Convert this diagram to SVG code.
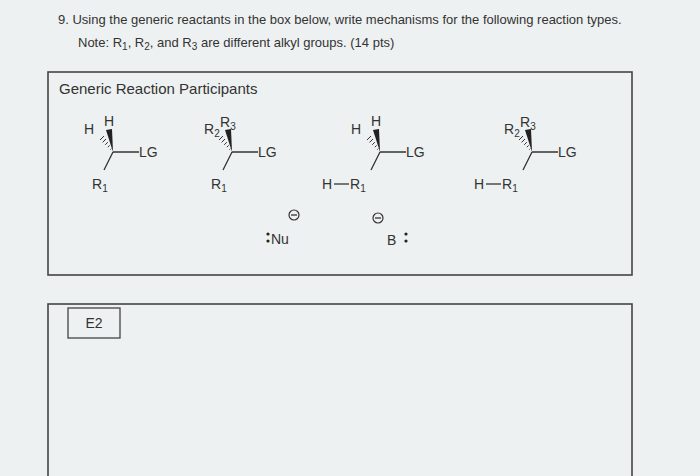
<svg xmlns="http://www.w3.org/2000/svg" width="700" height="476" viewBox="0 0 700 476">
<defs>
<style>
text{font-family:"Liberation Sans",Arial,sans-serif;fill:#333}
.t{font-size:13px}
.c{font-size:14px}
.s{font-size:10px}
.b{stroke:#333;stroke-width:1.3;fill:none}
.box{fill:none;stroke:#444;stroke-width:1.6}
</style>
<g id="mol">
<path class="b" d="M0,0 H26 M0,0 L-9,18"/>
<polygon points="0,0 -7,-22 -1,-23" fill="#222"/>
<path stroke="#333" stroke-width="1" d="M-2.6,-2.4 l1,-1 M-5.2,-4.8 l1.8,-1.8 M-7.8,-7.2 l2.6,-2.6 M-10.4,-9.6 l3.4,-3.4 M-13,-12 l4,-4"/>
</g>
</defs>
<rect width="700" height="476" fill="#eef1f1"/>
<text x="58" y="24" class="t">9.  Using the generic reactants in the box below, write mechanisms for the following reaction types.</text>
<text x="78" y="47" class="t">Note: R<tspan class="s" dy="3">1</tspan><tspan dy="-3">, R</tspan><tspan class="s" dy="3">2</tspan><tspan dy="-3">, and R</tspan><tspan class="s" dy="3">3</tspan><tspan dy="-3"> are different alkyl groups.  (14 pts)</tspan></text>
<rect class="box" x="48" y="72" width="584" height="203"/>
<text x="59" y="94" style="font-size:15px">Generic Reaction Participants</text>
<g id="n1"><use href="#mol" x="113" y="152"/>
<text x="104" y="126" class="c">H</text><text x="84" y="134" class="c">H</text>
<text x="139" y="157" class="c">LG</text>
<text x="92" y="189" class="c">R<tspan class="s" dy="3">1</tspan></text></g>
<g id="n2"><use href="#mol" x="232" y="152"/>
<text x="220" y="127" class="c">R<tspan class="s" dy="3">3</tspan></text><text x="204" y="134" class="c">R<tspan class="s" dy="3">2</tspan></text>
<text x="258" y="157" class="c">LG</text>
<text x="211" y="189" class="c">R<tspan class="s" dy="3">1</tspan></text></g>
<g id="n3"><use href="#mol" x="380" y="152"/>
<text x="371" y="126" class="c">H</text><text x="351" y="134" class="c">H</text>
<text x="406" y="157" class="c">LG</text>
<text x="322" y="189" class="c">H</text><path class="b" d="M334,184 H349"/>
<text x="350" y="189" class="c">R<tspan class="s" dy="3">1</tspan></text></g>
<g id="n4"><use href="#mol" x="532" y="152"/>
<text x="520" y="127" class="c">R<tspan class="s" dy="3">3</tspan></text><text x="504" y="134" class="c">R<tspan class="s" dy="3">2</tspan></text>
<text x="558" y="157" class="c">LG</text>
<text x="474" y="189" class="c">H</text><path class="b" d="M486,184 H501"/>
<text x="502" y="189" class="c">R<tspan class="s" dy="3">1</tspan></text></g>
<g id="nu"><circle cx="294" cy="215" r="5" fill="none" stroke="#333" stroke-width="1.2"/><path class="b" d="M291,215 H297"/>
<circle cx="268" cy="234" r="1.6" fill="#222"/><circle cx="268" cy="241" r="1.6" fill="#222"/>
<text x="271" y="244" class="c">Nu</text></g>
<g id="base"><circle cx="378" cy="218" r="5" fill="none" stroke="#333" stroke-width="1.2"/><path class="b" d="M375,218 H381"/>
<text x="387" y="245" class="c">B</text>
<circle cx="406" cy="234" r="1.6" fill="#222"/><circle cx="406" cy="241" r="1.6" fill="#222"/></g>
<rect class="box" x="48" y="304" width="584" height="180"/>
<g id="e2"><rect x="68" y="308" width="52" height="30" fill="none" stroke="#444" stroke-width="1.3"/>
<text x="94" y="328" class="c" text-anchor="middle">E2</text></g>
</svg>
